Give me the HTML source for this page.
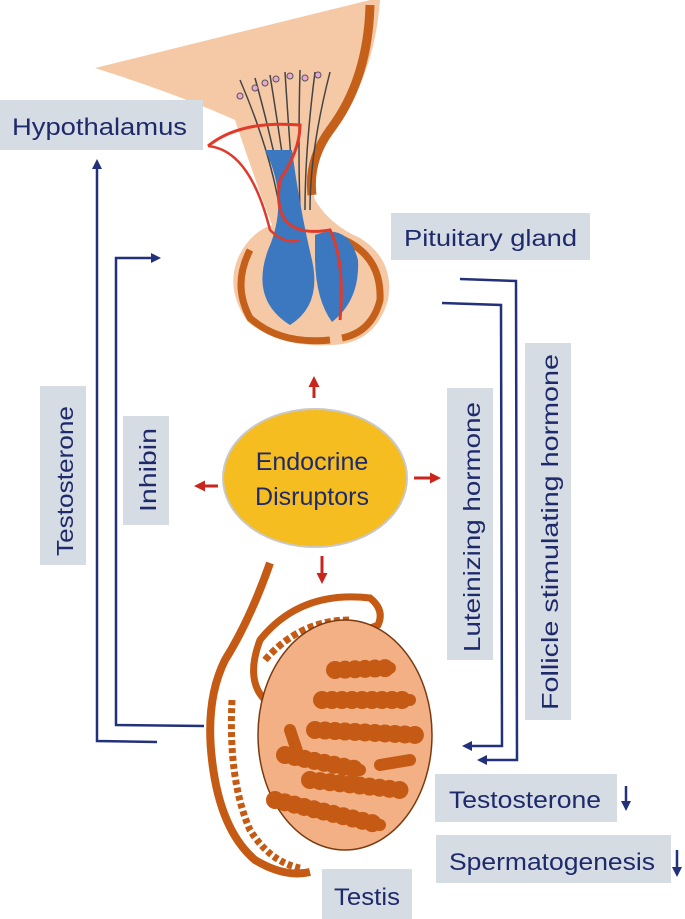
<!DOCTYPE html>
<html><head><meta charset="utf-8"><style>
body{margin:0;background:#fff;}
svg{display:block;font-family:"Liberation Sans","DejaVu Sans",sans-serif;}
</style></head><body>
<svg width="685" height="919" viewBox="0 0 685 919" xmlns="http://www.w3.org/2000/svg">
<defs>
<marker id="nb" markerWidth="10" markerHeight="10" refX="7" refY="5" orient="auto" markerUnits="userSpaceOnUse"><path d="M0,0 L10,5 L0,10 Z" fill="#23307a"/></marker>
<marker id="rd" markerWidth="11" markerHeight="11" refX="7" refY="5.5" orient="auto" markerUnits="userSpaceOnUse"><path d="M0,0 L11,5.5 L0,11 Z" fill="#c8261c"/></marker>
</defs>
<!-- hypothalamus / pituitary -->
<path d="M95,68 L370,0 L380,0 Q374,80 332,130 Q305,165 315,200 Q330,225 360,238 Q395,260 388,300 Q375,345 330,345 Q280,348 248,322 Q225,290 238,258 Q250,232 272,225 Q255,180 235,120 Q180,95 95,68 Z" fill="#f5c9a6"/>
<path d="M370,5 Q368,80 330,130 Q308,160 312,195" fill="none" stroke="#c5601a" stroke-width="9"/>
<path d="M250,250 Q232,285 250,318 Q280,345 330,340" fill="none" stroke="#c5601a" stroke-width="7"/>
<path d="M340,238 Q382,255 380,300 Q372,332 342,338" fill="none" stroke="#c5601a" stroke-width="7"/>
<path d="M240,80 Q270,150 280,210 M255,78 Q275,150 285,210 M270,75 Q282,150 290,210 M285,72 Q290,150 295,210 M300,70 Q298,150 300,210 M315,72 Q305,150 305,210 M330,72 Q310,150 310,210" stroke="#444" stroke-width="1.5" fill="none"/>
<g fill="#e8a8d0" stroke="#555" stroke-width="1"><circle cx="240" cy="96" r="3"/><circle cx="255" cy="88" r="3"/><circle cx="265" cy="83" r="3"/><circle cx="276" cy="79" r="3"/><circle cx="290" cy="76" r="3"/><circle cx="305" cy="78" r="3"/><circle cx="318" cy="75" r="3"/></g>
<path d="M265,150 Q290,200 268,250 Q250,300 290,325 Q322,305 312,260 Q300,210 292,150 Z" fill="#3b78c0"/>
<path d="M315,235 Q348,222 358,260 Q360,300 332,322 Q316,300 315,260 Z" fill="#3b78c0"/>
<path d="M208,146 Q240,120 300,125 Q300,150 280,180 Q270,240 330,230 Q345,260 340,320" fill="none" stroke="#e03a2a" stroke-width="3"/>
<path d="M208,146 Q250,150 270,230 Q285,245 300,240" fill="none" stroke="#e03a2a" stroke-width="2.5"/>
<!-- feedback lines -->
<polyline points="157,742 97,741 97,162" fill="none" stroke="#23307a" stroke-width="2.5" marker-end="url(#nb)"/>
<polyline points="204,726 116,725 116,258 158,258" fill="none" stroke="#23307a" stroke-width="2.5" marker-end="url(#nb)"/>
<polyline points="460,279 516,281 517,760 480,760" fill="none" stroke="#23307a" stroke-width="2.5" marker-end="url(#nb)"/>
<polyline points="442,303 501,305 502,746 465,746" fill="none" stroke="#23307a" stroke-width="2.5" marker-end="url(#nb)"/>
<!-- labels -->
<rect x="0" y="100" width="203" height="50" fill="#d6dce4"/>
<text x="12" y="135" font-size="24" fill="#1f2a6b" textLength="175" lengthAdjust="spacingAndGlyphs">Hypothalamus</text>
<rect x="391" y="213" width="199" height="47" fill="#d6dce4"/>
<text x="404" y="246" font-size="23" fill="#1f2a6b" textLength="173" lengthAdjust="spacingAndGlyphs">Pituitary gland</text>
<rect x="40" y="386" width="46" height="179" fill="#d6dce4"/>
<text transform="translate(73,556) rotate(-90)" font-size="23" fill="#1f2a6b" textLength="150" lengthAdjust="spacingAndGlyphs">Testosterone</text>
<rect x="123" y="416" width="46" height="109" fill="#d6dce4"/>
<text transform="translate(156,512) rotate(-90)" font-size="23" fill="#1f2a6b" textLength="84" lengthAdjust="spacingAndGlyphs">Inhibin</text>
<rect x="447" y="388" width="46" height="272" fill="#d6dce4"/>
<text transform="translate(480,652) rotate(-90)" font-size="23" fill="#1f2a6b" textLength="250" lengthAdjust="spacingAndGlyphs">Luteinizing hormone</text>
<rect x="525" y="343" width="46" height="377" fill="#d6dce4"/>
<text transform="translate(558,710) rotate(-90)" font-size="23" fill="#1f2a6b" textLength="356" lengthAdjust="spacingAndGlyphs">Follicle stimulating hormone</text>
<rect x="435" y="774" width="182" height="48" fill="#d6dce4"/>
<text x="449" y="808" font-size="24" fill="#1f2a6b" textLength="152" lengthAdjust="spacingAndGlyphs">Testosterone</text>
<line x1="626" y1="786" x2="626" y2="808" stroke="#23307a" stroke-width="2.5" marker-end="url(#nb)"/>
<rect x="436" y="835" width="235" height="48" fill="#d6dce4"/>
<text x="449" y="870" font-size="24" fill="#1f2a6b" textLength="206" lengthAdjust="spacingAndGlyphs">Spermatogenesis</text>
<line x1="677" y1="850" x2="677" y2="874" stroke="#23307a" stroke-width="2.5" marker-end="url(#nb)"/>
<rect x="322" y="869" width="90" height="50" fill="#d6dce4"/>
<text x="334" y="905" font-size="24" fill="#1f2a6b" textLength="66" lengthAdjust="spacingAndGlyphs">Testis</text>
<!-- endocrine disruptors -->
<ellipse cx="315" cy="478" rx="92" ry="69" fill="#f6bd20" stroke="#c8c8c8" stroke-width="2"/>
<text x="312" y="470" font-size="25" fill="#1f2a6b" text-anchor="middle">Endocrine</text>
<text x="312" y="505" font-size="25" fill="#1f2a6b" text-anchor="middle">Disruptors</text>
<line x1="314" y1="398" x2="314" y2="380" stroke="#c8261c" stroke-width="3" marker-end="url(#rd)"/>
<line x1="218" y1="486" x2="198" y2="486" stroke="#c8261c" stroke-width="3" marker-end="url(#rd)"/>
<line x1="414" y1="478" x2="437" y2="478" stroke="#c8261c" stroke-width="3" marker-end="url(#rd)"/>
<line x1="322" y1="556" x2="322" y2="580" stroke="#c8261c" stroke-width="3" marker-end="url(#rd)"/>
<!-- testis -->
<path d="M270,563 Q250,620 225,660 Q205,700 212,760 Q220,830 255,860 Q285,878 310,872" fill="none" stroke="#c55a14" stroke-width="8"/>
<path d="M232,700 Q228,780 250,830 Q270,862 300,868" fill="none" stroke="#c55a14" stroke-width="7" stroke-dasharray="5,3"/>
<path d="M260,640 Q300,590 370,598 Q385,610 378,625 L340,640 Q300,660 285,700 Q270,720 265,700 Q245,680 260,640 Z" fill="#fff" stroke="#c55a14" stroke-width="7"/>
<path d="M265,660 Q300,620 350,620 M270,690 Q300,650 340,640 M275,680 Q300,640 320,630" fill="none" stroke="#c55a14" stroke-width="7" stroke-dasharray="6,3"/>
<ellipse cx="345" cy="735" rx="87" ry="115" fill="#f2b084" stroke="#7a3a10" stroke-width="1.5"/>
<g stroke="#c55a14" stroke-linecap="round" fill="none">
<g stroke-width="12"><path d="M335,670 L390,668"/><path d="M322,700 L410,700"/><path d="M315,730 L415,735"/><path d="M285,755 L360,770"/><path d="M310,780 L400,790"/><path d="M275,800 L380,825"/><path d="M290,730 L300,760"/><path d="M380,765 L410,760"/></g>
<g stroke-width="18" stroke-dasharray="0,10"><path d="M335,670 L390,668"/><path d="M322,700 L410,700"/><path d="M315,730 L415,735"/><path d="M285,755 L360,770"/><path d="M310,780 L400,790"/><path d="M275,800 L380,825"/></g>
</g>
</svg>
</body></html>
